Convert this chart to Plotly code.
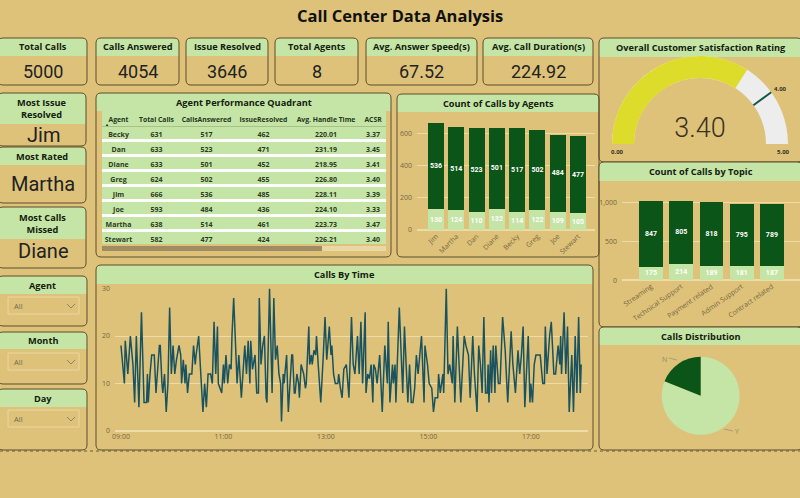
import pandas as pd
import plotly.graph_objects as go

W, H = 800, 498
BG = '#DEC27A'
GREEN = '#C4E5A6'
DARK = '#0B5518'
EDGE = '#5E4D2B'
GRID = '#EEDCA6'
TICK = '#75663F'
TITLE_FONT = 'Open Sans'
NUM_FONT = 'Roboto'

agents = ['Jim', 'Martha', 'Dan', 'Diane', 'Becky', 'Greg', 'Joe', 'Stewart']
agent_answered = [536, 514, 523, 501, 517, 502, 484, 477]
agent_missed = [130, 124, 110, 132, 114, 122, 109, 105]

topics = ['Streaming', 'Technical Support', 'Payment related', 'Admin Support', 'Contract related']
topic_answered = [847, 805, 818, 795, 789]
topic_missed = [175, 214, 189, 181, 187]

table_agents = ['Becky', 'Dan', 'Diane', 'Greg', 'Jim', 'Joe', 'Martha', 'Stewart']
table_total = [631, 633, 633, 624, 666, 593, 638, 582]
table_answered = [517, 523, 501, 502, 536, 484, 514, 477]
table_resolved = [462, 471, 452, 455, 485, 436, 461, 424]
table_handle = [220.01, 231.19, 218.95, 226.80, 228.11, 224.10, 223.73, 226.21]
table_acsr = [3.37, 3.45, 3.41, 3.40, 3.39, 3.33, 3.47, 3.40]
table_headers = ['Agent', 'Total\u00a0Calls', 'CallsAnswered', 'IssueResolved', 'Avg.\u00a0Handle\u00a0Time', 'ACSR']

answered_labels = ['Y', 'N']
answered_counts = [4054, 946]

rating = 3.40
rating_target = 4.00

# minutes after 09:00 and calls
call_minutes = [
    0, 2, 4, 5, 8, 11, 14, 16, 18, 21, 24, 27, 30, 31, 32, 34, 36, 39, 41, 45, 46, 48, 49, 51, 53, 55, 57, 59, 61, 63,
    65, 68, 70, 71, 73, 75, 76, 78, 80, 83, 85, 87, 88, 91, 93, 96, 98, 100, 102, 105, 107, 109, 111, 113, 114, 118,
    120, 121, 123, 125, 127, 129, 130, 132, 136, 138, 141, 143, 145, 147, 149, 151, 152, 154, 157, 159, 161, 162, 164,
    166, 168, 170, 171, 174, 177, 179, 181, 183, 185, 187, 188, 190, 191, 194, 196, 200, 201, 203, 204, 206, 208, 209,
    211, 214, 216, 217, 220, 221, 223, 224, 226, 228, 229, 231, 234, 237, 239, 241, 244, 246, 247, 249, 251, 254, 255,
    257, 259, 261, 264, 267, 270, 272, 274, 277, 279, 281, 283, 286, 287, 289, 291, 293, 295, 296, 298, 300, 303, 306,
    309, 312, 313, 315, 318, 319, 321, 322, 326, 330, 332, 336, 338, 340, 342, 344, 346, 348, 350, 352, 355, 356, 359,
    361, 364, 366, 368, 371, 372, 374, 377, 378, 381, 383, 385, 388, 389, 391, 394, 396, 398, 402, 404, 407, 409, 412,
    414, 417, 419, 421, 423, 425, 427, 429, 430, 431, 433, 434, 436, 438, 439, 442, 444, 447, 450, 453, 457, 459, 462,
    465, 467, 469, 471, 473, 477, 479, 480, 482, 484, 486, 487, 491, 494, 496, 497, 499, 502, 504, 507, 509, 512, 514,
    515, 516, 519, 521, 523, 525, 528, 530, 532, 534, 536, 538, 539,
]
call_counts = [
    18, 13, 10, 19, 12, 20, 14, 6, 20, 5, 25, 6, 6, 12, 6, 12, 16, 16, 8, 18, 18, 10, 8, 12, 4, 10, 26, 12, 18, 12,
    15, 18, 16, 10, 15, 10, 14, 8, 12, 12, 18, 14, 16, 20, 14, 4, 10, 5, 12, 12, 10, 23, 12, 22, 10, 8,
    14, 10, 16, 10, 14, 13, 20, 28, 10, 16, 7, 14, 18, 12, 19, 10, 19, 13, 16, 8, 8, 28, 14,
    18, 20, 7, 6, 30, 8, 28, 15, 18, 12, 10, 2, 12, 10, 16, 4, 16, 16, 8, 8, 12, 10, 7,
    14, 12, 9, 10, 22, 14, 16, 14, 17, 16, 20, 14, 6, 16, 24, 15, 22, 16, 18, 12, 10, 10, 12,
    9, 7, 13, 14, 7, 24, 14, 12, 20, 12, 23, 10, 25, 8, 12, 11, 14, 6, 14, 13, 10, 16, 4,
    18, 10, 23, 6, 14, 10, 14, 6, 26, 8, 22, 6, 14, 6, 6, 9, 16, 12, 16, 20, 6, 18, 14,
    10, 9, 4, 7, 7, 12, 8, 12, 8, 30, 12, 14, 10, 20, 6, 22, 12, 6, 20, 18, 16, 7, 20,
    12, 4, 18, 14, 8, 24, 8, 8, 14, 6, 17, 8, 18, 8, 18, 10, 10, 24, 17, 6, 21, 14, 8,
    17, 12, 16, 22, 5, 20, 6, 10, 6, 14, 16, 16, 16, 10, 10, 22, 12, 20, 23, 12, 12, 18, 14,
    20, 12, 25, 12, 22, 4, 16, 4, 20, 8, 24, 8, 14,
]
call_times = pd.Timestamp('2024-01-01 09:00') + pd.to_timedelta(call_minutes, unit='m')


def px(x):
    return x / W


def py(y):
    return 1 - y / H


def rounded(x0, y0, x1, y1, r, top_only=False):
    l, r_, t, b = px(x0), px(x1), py(y0), py(y1)
    rx, ry = r / W, r / H
    path = f'M {l} {t - ry} Q {l} {t} {l + rx} {t} L {r_ - rx} {t} Q {r_} {t} {r_} {t - ry} '
    if top_only:
        return path + f'L {r_} {b} L {l} {b} Z'
    return path + f'L {r_} {b + ry} Q {r_} {b} {r_ - rx} {b} L {l + rx} {b} Q {l} {b} {l} {b + ry} Z'


shapes = []
notes = []


def text(x, y, s, size, font=TITLE_FONT, color='#15200F', bold=False, xanchor='center'):
    notes.append(dict(x=px(x), y=py(y), xref='paper', yref='paper', text=f'<b>{s}</b>' if bold else s,
                      showarrow=False, xanchor=xanchor, yanchor='middle', align='center',
                      font=dict(family=font, size=size, color=color)))


def panel(x0, y0, x1, y1, head_bottom, title, size=9.2):
    shapes.append(dict(type='path', path=rounded(x0, y0, x1, head_bottom, 5, True), xref='paper', yref='paper',
                       fillcolor=GREEN, line=dict(width=0), layer='below'))
    shapes.append(dict(type='path', path=rounded(x0, y0, x1, y1, 5), xref='paper', yref='paper',
                       fillcolor='rgba(0,0,0,0)', line=dict(color=EDGE, width=1), layer='below'))
    text((x0 + x1) / 2, (y0 + head_bottom) / 2, title, size, bold=True)


def slicer(y0, y1, head_bottom, box_top, title):
    panel(-2, y0, 87, y1, head_bottom, title)
    shapes.append(dict(type='rect', x0=px(8), x1=px(79), y0=py(box_top), y1=py(box_top + 17), xref='paper', yref='paper',
                       line=dict(color='#E9D7A0', width=1), layer='below'))
    text(12, box_top + 9, 'All', 7.5, color='#6E6A52', xanchor='left')
    chev = f'M {px(67)} {py(box_top + 7)} L {px(71)} {py(box_top + 11)} L {px(75)} {py(box_top + 7)}'
    shapes.append(dict(type='path', path=chev, xref='paper', yref='paper', line=dict(color='#8F8560', width=1), layer='below'))


text(400, 16, 'Call Center Data Analysis', 16.5, bold=True, color='#111111')

# KPI cards
for x0, x1, title, value in [(-2, 87, 'Total Calls', '5000'), (96, 179, 'Calls Answered', '4054'),
                             (186, 268, 'Issue Resolved', '3646'), (275, 358, 'Total Agents', '8'),
                             (366, 477, 'Avg. Answer Speed(s)', '67.52'), (483, 593, 'Avg. Call Duration(s)', '224.92')]:
    panel(x0, 38, x1, 85, 56, title)
    text((x0 + x1) / 2, 71, value, 18, font=NUM_FONT, color='#222222')

# left column cards
panel(-2, 93, 86, 146, 124, 'Most Issue<br>Resolved')
text(43, 135, 'Jim', 20, font=NUM_FONT, color='#222222')
panel(-2, 147, 86, 203, 165, 'Most Rated')
text(43, 184, 'Martha', 20, font=NUM_FONT, color='#222222')
panel(-2, 207, 86, 268, 239, 'Most Calls<br>Missed')
text(43, 251, 'Diane', 20, font=NUM_FONT, color='#222222')

slicer(276, 326, 294, 297, 'Agent')
slicer(332, 384, 349, 353, 'Month')
slicer(389, 450, 407, 410, 'Day')

panel(96, 93, 391, 257, 111, 'Agent Performance Quadrant')
panel(397, 94, 599, 257, 112, 'Count of Calls by Agents')
panel(96, 265, 593, 450, 284, 'Calls By Time')
panel(599, 38, 802, 162, 57, 'Overall Customer Satisfaction Rating')
panel(599, 162, 802, 327, 181, 'Count of Calls by Topic')
panel(599, 327, 802, 450, 345, 'Calls Distribution')

# dotted strip along the bottom of the page content
shapes.append(dict(type='line', x0=0, x1=1, y0=py(451), y1=py(451), xref='paper', yref='paper',
                   line=dict(color='#6B5A35', width=1, dash='dot'), layer='below'))

# table backing: header band, row stripes, scroll bar
shapes.append(dict(type='rect', x0=px(102), x1=px(386), y0=py(111), y1=py(127), xref='paper', yref='paper',
                   fillcolor=GREEN, line=dict(width=0), layer='below'))
shapes.append(dict(type='line', x0=px(102), x1=px(386), y0=py(127), y1=py(127), xref='paper', yref='paper',
                   line=dict(color='#8F9A6C', width=1), layer='below'))
for i in range(len(table_agents)):
    shapes.append(dict(type='rect', x0=px(102), x1=px(386), y0=py(127 + 15 * i), y1=py(139 + 15 * i), xref='paper', yref='paper',
                       fillcolor=GREEN, line=dict(width=0), layer='below'))
    if i < 7:
        shapes.append(dict(type='rect', x0=px(102), x1=px(386), y0=py(139 + 15 * i), y1=py(142 + 15 * i), xref='paper', yref='paper',
                           fillcolor='#FFFFFF', line=dict(width=0), layer='below'))
shapes.append(dict(type='rect', x0=px(102), x1=px(386), y0=py(246), y1=py(251), xref='paper', yref='paper',
                   fillcolor='#EAD7A6', line=dict(width=0), layer='below'))
shapes.append(dict(type='rect', x0=px(102), x1=px(322), y0=py(246), y1=py(251), xref='paper', yref='paper',
                   fillcolor='#A08C62', line=dict(width=0), layer='below'))
text(107, 124, '▲', 4)

# pie leader lines
shapes.append(dict(type='line', x0=px(669), x1=px(677), y0=py(358), y1=py(360), xref='paper', yref='paper',
                   line=dict(color='#A8A07A', width=1), layer='below'))
shapes.append(dict(type='line', x0=px(724), x1=px(733), y0=py(429), y1=py(431), xref='paper', yref='paper',
                   line=dict(color='#A8A07A', width=1), layer='below'))
text(664, 359, 'N', 7, color='#8D8A68')
text(737, 431, 'Y', 7, color='#8D8A68')

# gauge end labels
text(617, 152, '0.00', 6, bold=True, color='#33301F')
text(783, 152, '5.00', 6, bold=True, color='#33301F')
text(780, 89, '4.00', 6, bold=True, color='#33301F')

fig = go.Figure()

fig.add_trace(go.Bar(x=agents, y=agent_missed, marker_color=GREEN, text=agent_missed, xaxis='x', yaxis='y', name='N'))
fig.add_trace(go.Bar(x=agents, y=agent_answered, marker_color=DARK, text=agent_answered, xaxis='x', yaxis='y', name='Y'))
fig.add_trace(go.Bar(x=topics, y=topic_missed, marker_color=GREEN, text=topic_missed, xaxis='x2', yaxis='y2', name='N'))
fig.add_trace(go.Bar(x=topics, y=topic_answered, marker_color=DARK, text=topic_answered, xaxis='x2', yaxis='y2', name='Y'))
fig.update_traces(textposition='inside', insidetextanchor='middle', textangle=0, constraintext='none',
                  textfont=dict(family=NUM_FONT, size=7, color='#FFFFFF', weight='bold'), marker_line_width=0)

fig.add_trace(go.Scatter(x=call_times, y=call_counts, mode='lines', line=dict(color='#19535F', width=1.5),
                         xaxis='x3', yaxis='y3'))

fig.add_trace(go.Table(
    domain=dict(x=[px(102), px(386)], y=[py(249), py(109)]),
    columnwidth=[33, 43, 57, 57, 68, 26],
    header=dict(values=table_headers, height=15, align='center',
                fill_color='rgba(0,0,0,0)', line_width=0,
                font=dict(family=TITLE_FONT, size=6.8, color='#26331B', weight='bold')),
    cells=dict(values=[table_agents, table_total, table_answered, table_resolved, table_handle, table_acsr],
               format=['', '', '', '', '.2f', '.2f'], height=15, align='center',
               fill_color='rgba(0,0,0,0)', line_width=0,
               font=dict(family=TITLE_FONT, size=7, color='#2E3A22', weight='bold')),
))

fig.add_trace(go.Indicator(
    mode='gauge+number', value=rating,
    domain=dict(x=[px(612), px(788)], y=[py(144), py(56)]),
    number=dict(valueformat='.2f', font=dict(family=NUM_FONT, size=27, color='#3A3420', weight=300)),
    gauge=dict(axis=dict(range=[0, 5], visible=False), shape='angular', bgcolor='#EDEDED', borderwidth=0,
               bar=dict(color='#DEDC2B', thickness=1),
               threshold=dict(value=rating_target, thickness=1, line=dict(color='#14584A', width=2))),
))

fig.add_trace(go.Pie(labels=answered_labels, values=answered_counts, sort=False, direction='clockwise', rotation=0,
                     marker=dict(colors=[GREEN, DARK], line=dict(width=0)), textinfo='none', showlegend=False,
                     domain=dict(x=[px(661.7), px(739.7)], y=[py(434.7), py(356.7)])))

axis_font = dict(family=TITLE_FONT, size=7, color=TICK)
y_style = dict(showgrid=True, gridcolor=GRID, gridwidth=1, zeroline=True, zerolinecolor=GRID, showline=False,
               ticks='', tickfont=axis_font, ticklabelstandoff=4)
x_style = dict(showgrid=False, zeroline=False, showline=False, ticks='', tickfont=axis_font)

fig.update_layout(
    width=W, height=H, margin=dict(l=0, r=0, t=0, b=0, autoexpand=False),
    paper_bgcolor=BG, plot_bgcolor='rgba(0,0,0,0)',
    barmode='stack', bargap=0.21, showlegend=False,
    shapes=shapes, annotations=notes,
    xaxis=dict(domain=[px(417), px(595)], anchor='y', range=[-0.94, 7.84], tickangle=-45, **x_style),
    yaxis=dict(domain=[py(230), py(117.3)], anchor='x', range=[0, 700], tickvals=[0, 200, 400, 600], **y_style),
    xaxis2=dict(domain=[px(622), px(800)], anchor='y2', range=[-0.96, 4.93], tickangle=-35, **x_style),
    yaxis2=dict(domain=[py(280.3), py(194.5)], anchor='x2', range=[0, 1100], tickvals=[0, 500, 1000], tickformat=',', **y_style),
    xaxis3=dict(domain=[px(115), px(588)], anchor='y3', type='date', range=['2024-01-01 08:53', '2024-01-01 18:07'],
                tick0='2024-01-01 09:00', dtick=7200000, tickformat='%H:%M', **x_style),
    yaxis3=dict(domain=[py(431), py(288.5)], anchor='x3', range=[0, 30], tickvals=[0, 10, 20, 30], **y_style),
)

# the browser's default body margin would push the figure 8px in
fig.write_html('out.html', config=dict(displayModeBar=False),
               post_script="document.body.style.margin = '0'; document.body.style.background = '#DEC27A';")
